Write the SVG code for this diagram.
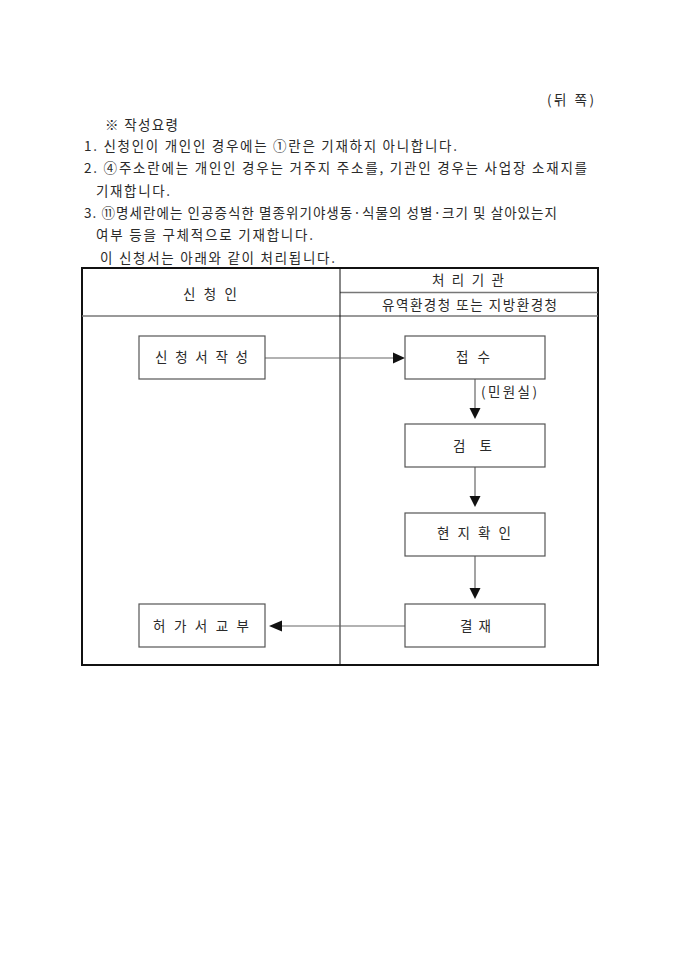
<svg xmlns="http://www.w3.org/2000/svg" width="680" height="962" viewBox="0 0 680 962">
<style>
text{font-family:"Noto Sans CJK KR","Liberation Sans",sans-serif;font-size:13.5px;fill:#2a2a2a}
.box{fill:#fff;stroke:#555;stroke-width:1.2}
.ln{stroke:#666;stroke-width:1.2;fill:none}
.ah{fill:#111}
</style>
<rect width="680" height="962" fill="#fff"/>
<g id="notes">
<text x="547" y="105" textLength="47" lengthAdjust="spacing">(뒤 쪽)</text>
<text x="105" y="130" textLength="73" lengthAdjust="spacing">※ 작성요령</text>
<text x="84" y="151" textLength="373" lengthAdjust="spacing">1. 신청인이 개인인 경우에는 ①란은 기재하지 아니합니다.</text>
<text x="84" y="173" textLength="503" lengthAdjust="spacing">2. ④주소란에는 개인인 경우는 거주지 주소를, 기관인 경우는 사업장 소재지를</text>
<text x="96" y="196" textLength="74" lengthAdjust="spacing">기재합니다.</text>
<text x="84" y="218" textLength="473" lengthAdjust="spacing">3. ⑪명세란에는 인공증식한 멸종위기야생동·식물의 성별·크기 및 살아있는지</text>
<text x="96" y="240" textLength="217" lengthAdjust="spacing">여부 등을 구체적으로 기재합니다.</text>
<text x="100" y="263" textLength="235" lengthAdjust="spacing">이 신청서는 아래와 같이 처리됩니다.</text>
</g>
<g id="table">
<rect x="82" y="268" width="516" height="397" fill="none" stroke="#111" stroke-width="2"/>
<line x1="82" y1="316" x2="598" y2="316" stroke="#777" stroke-width="1.5"/>
<line x1="340" y1="292.5" x2="598" y2="292.5" stroke="#777" stroke-width="1.5"/>
<line x1="340" y1="268" x2="340" y2="665" stroke="#111" stroke-width="1"/>
<text x="183" y="299" textLength="54" lengthAdjust="spacing">신 청 인</text>
<text x="432" y="285" textLength="72" lengthAdjust="spacing">처 리 기 관</text>
<text x="382" y="310" textLength="175" lengthAdjust="spacing">유역환경청 또는 지방환경청</text>
</g>
<g id="connectors">
<line class="ln" x1="265" y1="358" x2="394" y2="358"/>
<polygon class="ah" points="393,352.5 405,358 393,363.5"/>
<line class="ln" x1="475" y1="379" x2="475" y2="409"/>
<polygon class="ah" points="469.5,408 480.5,408 475,419"/>
<line class="ln" x1="475" y1="467" x2="475" y2="497"/>
<polygon class="ah" points="469.5,496 480.5,496 475,507"/>
<line class="ln" x1="475" y1="556" x2="475" y2="589"/>
<polygon class="ah" points="469.5,588 480.5,588 475,599"/>
<line class="ln" x1="405" y1="626" x2="281" y2="626"/>
<polygon class="ah" points="282,620.5 282,631.5 269,626"/>
<text x="481" y="397" textLength="56" lengthAdjust="spacing">(민원실)</text>
</g>
<g id="n1"><rect class="box" x="139" y="336" width="126" height="43"/><text x="155" y="362" textLength="93" lengthAdjust="spacing">신 청 서 작 성</text></g>
<g id="n2"><rect class="box" x="405" y="336" width="140" height="43"/><text x="456" y="362" textLength="34" lengthAdjust="spacing">접 수</text></g>
<g id="n3"><rect class="box" x="405" y="424" width="140" height="43"/><text x="453" y="451" textLength="39" lengthAdjust="spacing">검 토</text></g>
<g id="n4"><rect class="box" x="405" y="513" width="140" height="43"/><text x="437" y="538" textLength="74" lengthAdjust="spacing">현 지 확 인</text></g>
<g id="n5"><rect class="box" x="405" y="604" width="140" height="43"/><text x="460" y="631" textLength="31" lengthAdjust="spacing">결 재</text></g>
<g id="n6"><rect class="box" x="139" y="604" width="126" height="43"/><text x="153" y="631" textLength="96" lengthAdjust="spacing">허 가 서 교 부</text></g>
</svg>
